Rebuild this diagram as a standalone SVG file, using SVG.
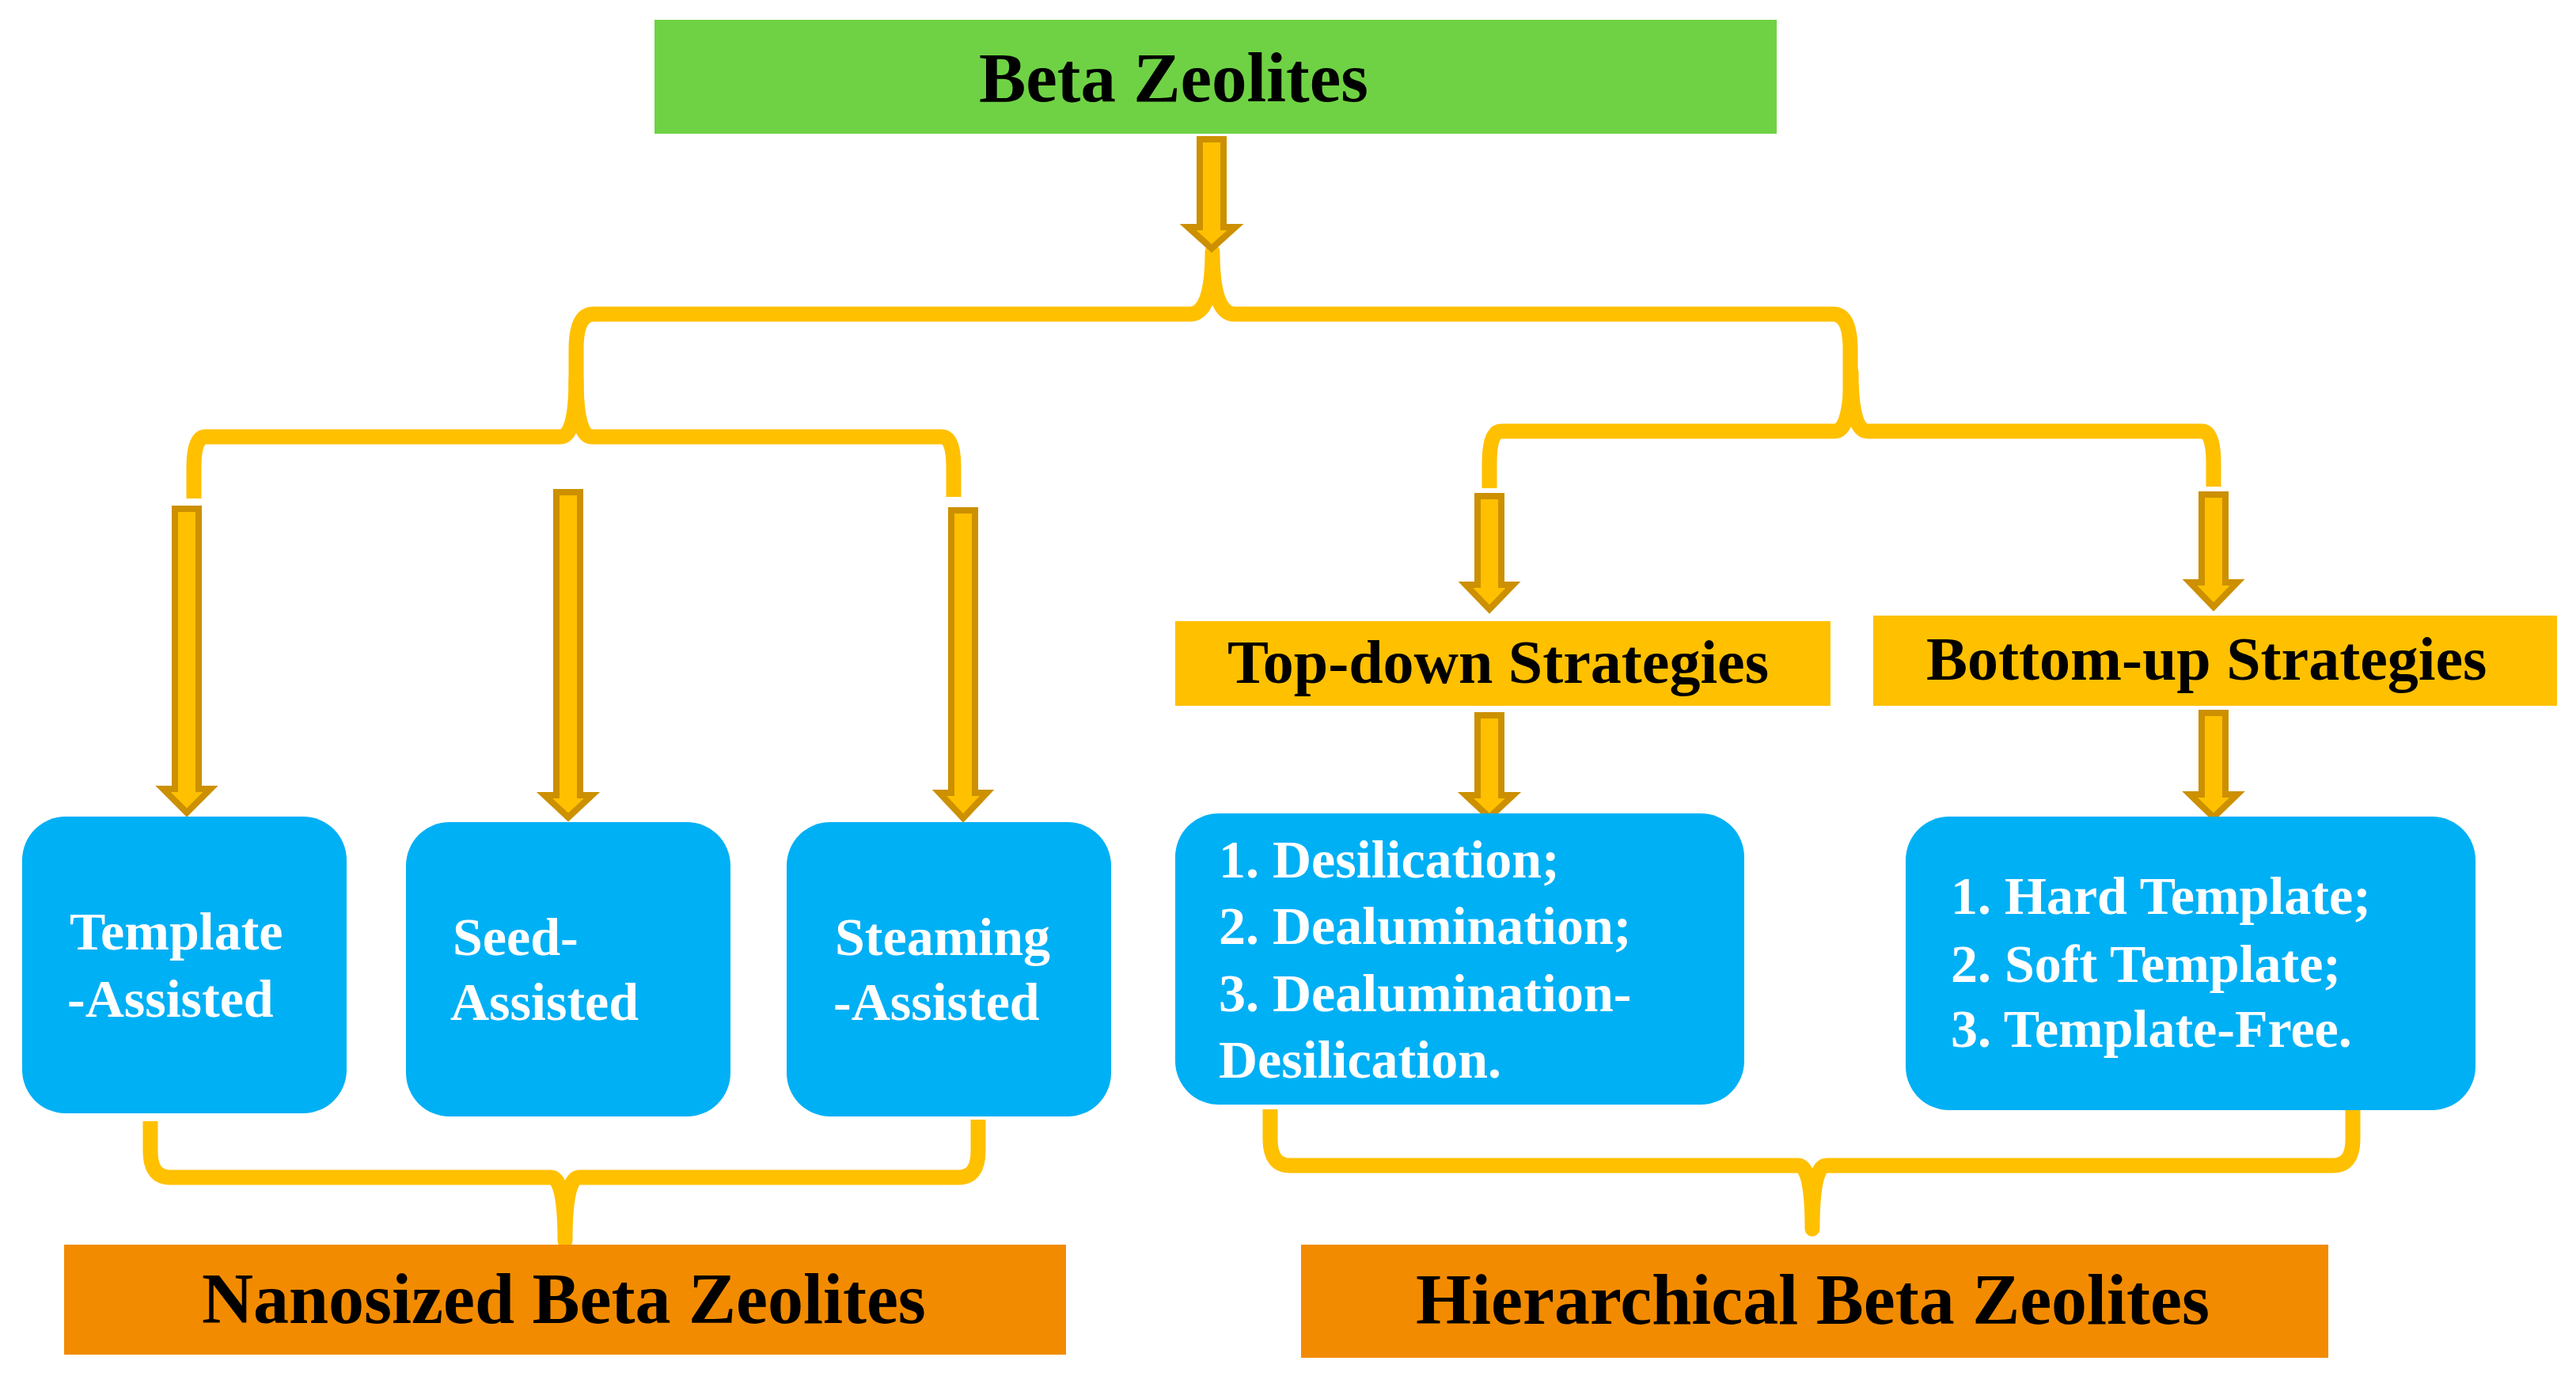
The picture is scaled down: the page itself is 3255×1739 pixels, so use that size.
<svg xmlns="http://www.w3.org/2000/svg" width="3255" height="1739" viewBox="0 0 3255 1739">
<style>
.brace{fill:none;stroke:#FFC000;stroke-width:19;stroke-linejoin:round}
.arrow{fill:#FFC000;stroke:#CC9000;stroke-width:8;stroke-linejoin:miter}
.green{fill:#6FD244}
.gold{fill:#FFC000}
.blue{fill:#00B0F5}
.orange{fill:#F28B00}
.t{font-family:"Liberation Serif","Times New Roman",serif;font-weight:bold}
.dark{fill:#000}
.white{fill:#fff}
</style>
<rect width="3255" height="1739" fill="#fff"/>
<g id="connectors">
<path class="brace" d="M728,505 L728,442 Q728,397 750,397 L1504,397 Q1532,397 1532,318 Q1532,397 1560,397 L2316,397 Q2338,397 2338,442 L2338,500"/>
<path class="brace" d="M245,630 L245,590 Q245,552 260,552 L708,552 Q728,552 728,478 Q728,552 748,552 L1190,552 Q1205,552 1205,590 L1205,628"/>
<path class="brace" d="M1882,617 L1882,585 Q1882,545 1897,545 L2318,545 Q2339,545 2339,470 Q2339,545 2360,545 L2782,545 Q2797,545 2797,585 L2797,615"/>
<path class="brace" d="M190,1417 L190,1455 Q190,1488 215,1488 L696,1488 Q714,1488 714,1568 Q714,1488 732,1488 L1211,1488 Q1236,1488 1236,1455 L1236,1415"/>
<path class="brace" d="M1605,1402 L1605,1440 Q1605,1473 1630,1473 L2272,1473 Q2290,1473 2290,1553 Q2290,1473 2308,1473 L2948,1473 Q2973,1473 2973,1440 L2973,1400"/>
<polygon class="arrow" points="1516,176 1546,176 1546,287 1561,287 1531,314 1501,287 1516,287"/>
<polygon class="arrow" points="221,643 251,643 251,997 266,997 236,1027 206,997 221,997"/>
<polygon class="arrow" points="703,622 733,622 733,1005 748,1005 718,1033 688,1005 703,1005"/>
<polygon class="arrow" points="1202,645 1232,645 1232,1002 1247,1002 1217,1034 1187,1002 1202,1002"/>
<polygon class="arrow" points="1867,627 1897,627 1897,739 1912,739 1882,770 1852,739 1867,739"/>
<polygon class="arrow" points="2782,625 2812,625 2812,736 2827,736 2797,767 2767,736 2782,736"/>
<polygon class="arrow" points="1867,904 1897,904 1897,1005 1912,1005 1882,1033 1852,1005 1867,1005"/>
<polygon class="arrow" points="2782,901 2812,901 2812,1004 2827,1004 2797,1033 2767,1004 2782,1004"/>
</g>
<g id="beta-zeolites">
<rect class="green" x="827" y="25" width="1418" height="144"/>
<text class="t dark" x="1237" y="128" font-size="89">Beta Zeolites</text>
</g>
<g id="template-assisted">
<rect class="blue" x="28" y="1032" width="410" height="375" rx="55" ry="55"/>
<text class="t white" font-size="68"><tspan x="88" y="1200">Template</tspan><tspan x="85" y="1285">-Assisted</tspan></text>
</g>
<g id="seed-assisted">
<rect class="blue" x="513" y="1039" width="410" height="372" rx="55" ry="55"/>
<text class="t white" font-size="68"><tspan x="572" y="1207">Seed-</tspan><tspan x="569" y="1289">Assisted</tspan></text>
</g>
<g id="steaming-assisted">
<rect class="blue" x="994" y="1039" width="410" height="372" rx="55" ry="55"/>
<text class="t white" font-size="68"><tspan x="1055" y="1207">Steaming</tspan><tspan x="1053" y="1289">-Assisted</tspan></text>
</g>
<g id="top-down">
<rect class="gold" x="1485" y="785" width="828" height="107"/>
<text class="t dark" x="1551" y="863" font-size="78">Top-down Strategies</text>
</g>
<g id="bottom-up">
<rect class="gold" x="2367" y="778" width="864" height="114"/>
<text class="t dark" x="2434" y="859" font-size="78">Bottom-up Strategies</text>
</g>
<g id="top-down-methods">
<rect class="blue" x="1485" y="1028" width="719" height="368" rx="55" ry="55"/>
<text class="t white" font-size="68"><tspan x="1540" y="1109">1. Desilication;</tspan><tspan x="1540" y="1193">2. Dealumination;</tspan><tspan x="1540" y="1278">3. Dealumination-</tspan><tspan x="1540" y="1362">Desilication.</tspan></text>
</g>
<g id="bottom-up-methods">
<rect class="blue" x="2408" y="1032" width="720" height="371" rx="55" ry="55"/>
<text class="t white" font-size="68"><tspan x="2465" y="1155">1. Hard Template;</tspan><tspan x="2465" y="1241">2. Soft Template;</tspan><tspan x="2465" y="1323">3. Template-Free.</tspan></text>
</g>
<g id="nanosized">
<rect class="orange" x="81" y="1573" width="1266" height="139"/>
<text class="t dark" x="255" y="1672" font-size="90">Nanosized Beta Zeolites</text>
</g>
<g id="hierarchical">
<rect class="orange" x="1644" y="1573" width="1298" height="143"/>
<text class="t dark" x="1789" y="1673" font-size="90">Hierarchical Beta Zeolites</text>
</g>
</svg>
